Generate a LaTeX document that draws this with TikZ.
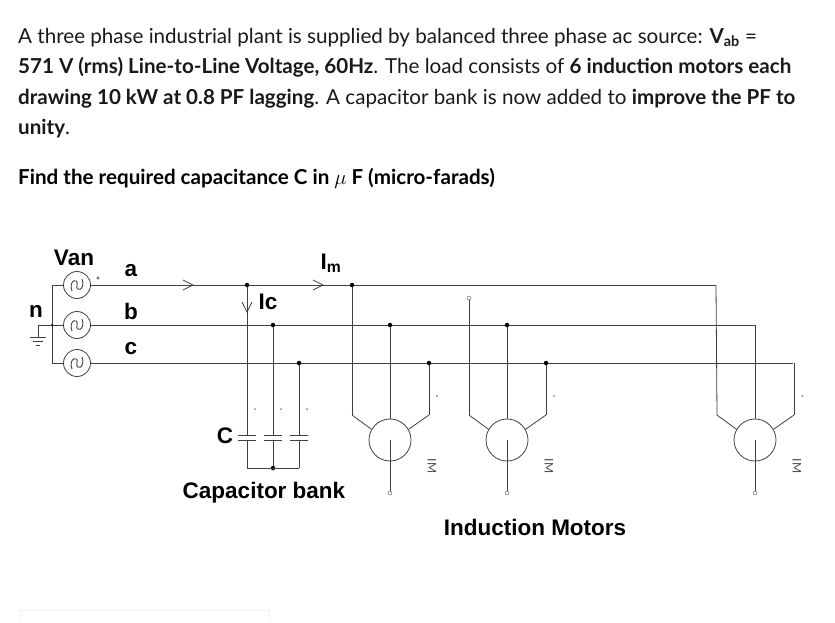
\documentclass[tikz,border=0pt]{standalone}
\usepackage{fontspec}
\setmainfont{Lato}
\newfontfamily\arialfont{Liberation Sans}
\usetikzlibrary{positioning, calc}
\tikzstyle{wire} = [line width=0.8pt, draw=black!75]
\tikzstyle{jdot} = [circle, fill=black, inner sep=0pt, minimum size=4.5pt]
\tikzstyle{odot} = [circle, draw=black!70, fill=white, inner sep=0pt, minimum size=4pt]
\tikzstyle{tinydot} = [circle, fill=black!50, inner sep=0pt, minimum size=2pt]
\tikzstyle{src} = [circle, draw=black!75, line width=0.8pt, fill=white, minimum size=27pt, inner sep=0pt]
\tikzstyle{motor} = [circle, draw=black!75, line width=0.8pt, minimum size=42pt, inner sep=0pt]
\tikzstyle{lbl} = [font=\arialfont\bfseries\fontsize{22.5}{22.5}\selectfont, inner sep=0pt]
\tikzstyle{imlbl} = [font=\rmfamily\fontsize{12}{12}\selectfont, rotate=-90, inner sep=0pt, text=black!70]
\begin{document}
\begin{tikzpicture}[x=1pt, y=-1pt]
\useasboundingbox (0,0) rectangle (835,622);
% question text
\node (txt) [anchor=north west, align=left, inner sep=0pt, text=black!90,
  font=\fontsize{20.6}{30.4}\selectfont] at (18,28)
  {A three phase industrial plant is supplied by balanced three phase ac source: \textbf{V\textsubscript{ab}} =\\
   \textbf{571 V (rms) Line-to-Line Voltage, 60Hz}. The load consists of \textbf{6 induction motors each}\\
   \textbf{drawing 10 kW at 0.8 PF lagging}. A capacitor bank is now added to \textbf{improve the PF to}\\
   \textbf{unity}.};
\node (find) [anchor=north west, inner sep=0pt, font=\fontsize{20.6}{24}\selectfont\bfseries] at (18,168)
  {Find the required capacitance C in $\mu$ F (micro-farads)};
% sources
\node (va) [src] at (77,285) {};
\node (vb) [src] at (77,325) {};
\node (vc) [src] at (77,363) {};
\foreach \s in {va,vb,vc}
  \draw [black!75, line width=0.9pt] ($(\s)+(-5,6)$) .. controls ($(\s)+(-9,-5)$) and ($(\s)+(2,-8)$) .. ($(\s)+(0,0)$) .. controls ($(\s)+(-2,8)$) and ($(\s)+(9,5)$) .. ($(\s)+(5,-6)$);
\coordinate (na) at (52,285);
\coordinate (nc) at (52,363);
\coordinate (nb) at (52,325);
\draw [wire] (va) -- (na) -- (nc) -- (vc);
\draw [wire] (vb) -- (nb);
\node [jdot, minimum size=2.5pt] at (nb) {};
\coordinate (g0) at (38,325);
\coordinate (g1) at (38,337);
\draw [wire] (nb) -- (g0) -- (g1);
\draw [wire] ($(g1)+(-8,0)$) -- ($(g1)+(8,0)$);
\draw [wire] ($(g1)+(-5,4)$) -- ($(g1)+(5,4)$);
\draw [wire] ($(g1)+(-2,8)$) -- ($(g1)+(2,8)$);
\node [odot, minimum size=2.5pt] at (98,278) {};
\node [lbl] at (74,258) {Van};
\node [lbl] at (131,271) {a};
\node [lbl] at (131,311) {b};
\node [lbl] at (131,349) {c};
\node [lbl] at (36,311) {n};
% bus lines
\coordinate (ea) at (716,285);
\coordinate (eb) at (755,325);
\coordinate (ec) at (793,363);
\draw [wire] (va) -- (ea);
\draw [wire] (vb) -- (eb);
\draw [wire] (vc) -- (ec);
\draw [wire] (183,280) -- (193,285) -- (183,290);
\draw [wire] (313,280) -- (323,285) -- (313,290);
\node [lbl] at (331,263) {I\textsubscript{m}};
% capacitor bank
\foreach \x/\y/\n in {247/285/ca, 273/325/cb, 299/363/cc} {
  \node (\n) [jdot] at (\x,\y) {};
  \draw [wire] (\n) -- (\x,435);
  \draw [wire] (\x,440) -- (\x,468);
  \draw [wire] (\x-9,435) -- (\x+9,435);
  \draw [wire] (\x-9,440) -- (\x+9,440);
  \node [tinydot] at (\x+8,409) {};
}
\node (cbot) [jdot] at (273,468) {};
\draw [wire] (247,468) -- (299,468);
\draw [wire] (242,302) -- (247,312) -- (252,302);
\node [lbl] at (268,302) {Ic};
\node [lbl] at (225,436) {C};
\node [lbl] at (264,493) {Capacitor bank};
% induction motors
\foreach \x/\n in {390/m1, 507/m2, 755/m3} {
  \node (\n) [motor] at (\x,440) {};
  \draw [wire] (\n.center) -- (\x,493);
  \node [odot] at (\x,493) {};
  \draw [wire] (\n.150) -- (\x-38,415);
  \draw [wire] (\n.30) -- (\x+39,415);
  \draw [wire] (\x+39,415) -- (\x+39,363);
  \node [tinydot] at (\x+47,396) {};
  \node [imlbl] at (\x+42,466) {IM};
}
\draw [wire] (352,415) -- (352,285);
\node [jdot] at (352,285) {};
\draw [wire] (m1) -- (390,325);
\node [jdot] at (390,325) {};
\node [jdot] at (429,363) {};
\draw [wire] (469,415) -- (469,298);
\node [odot] at (469,298) {};
\draw [wire] (m2) -- (507,325);
\node [jdot] at (507,325) {};
\node [jdot] at (546,363) {};
\draw [wire] (717,415) -- (ea);
\draw [wire] (m3) -- (eb);
\node [lbl] at (535,527) {Induction Motors};
% answer box edge
\draw [black!20, rounded corners=2pt] (20,622) -- (20,610) -- (270,610) -- (270,622);
\end{tikzpicture}
\end{document}
